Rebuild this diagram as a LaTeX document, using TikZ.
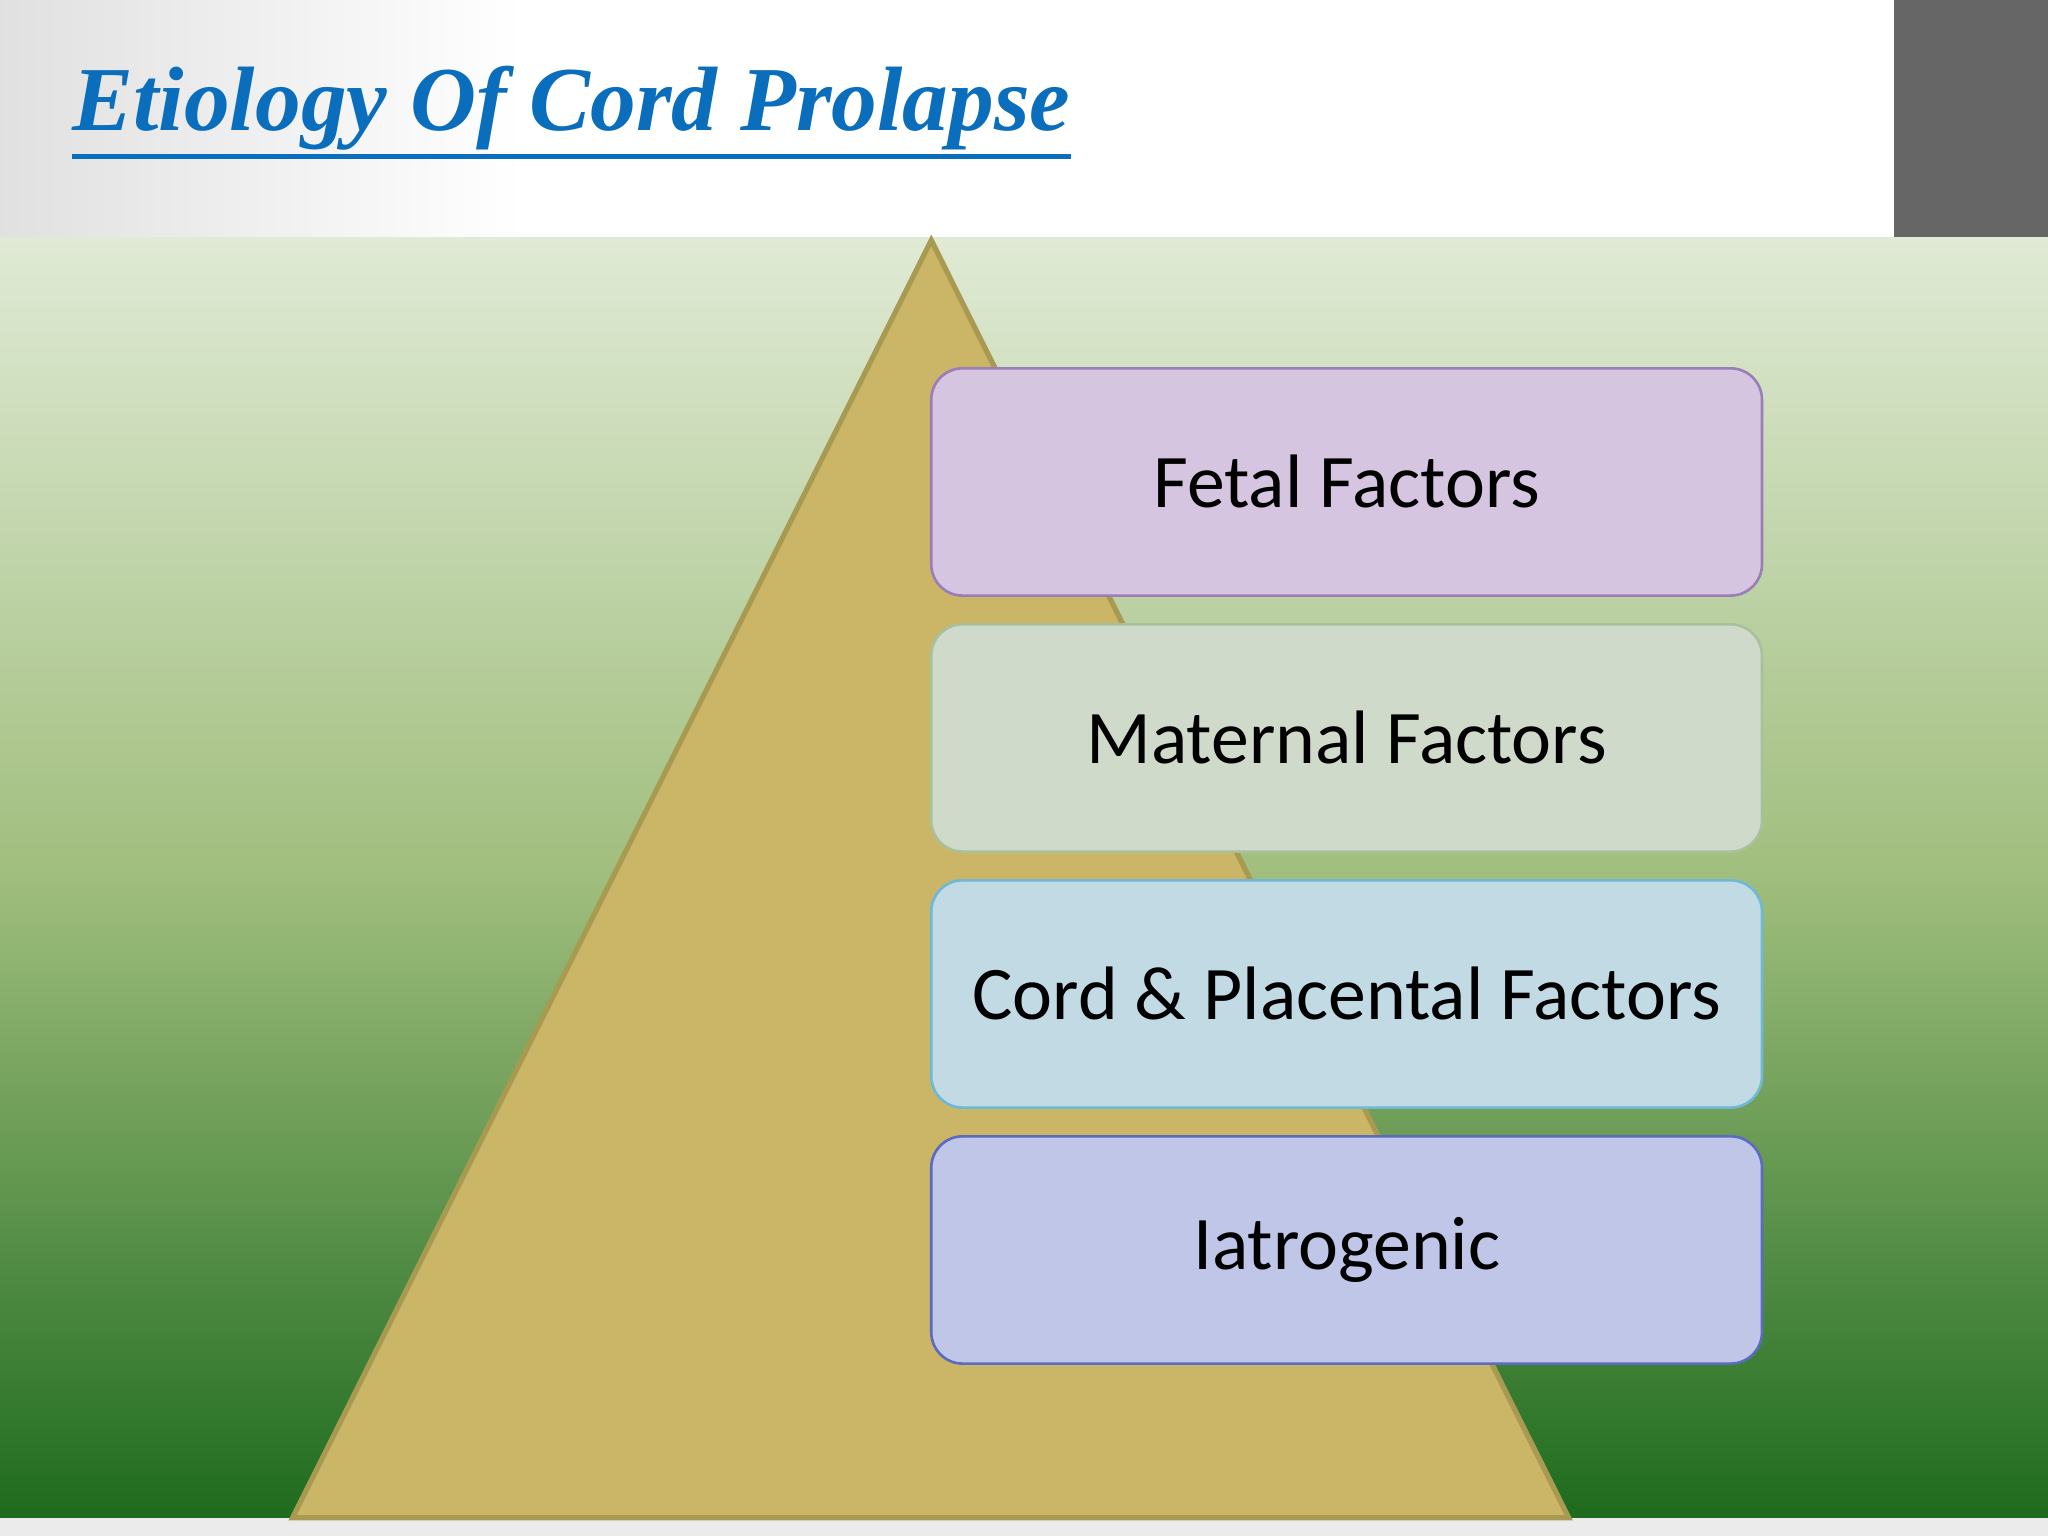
\documentclass[tikz,border=0pt]{standalone}
\usepackage{fontspec}
\setmainfont{Carlito}
\newfontfamily\titlefont{Liberation Serif}
\definecolor{tblue}{RGB}{10,110,189}
\definecolor{tri}{RGB}{203,181,103}
\definecolor{trid}{RGB}{168,154,80}
\definecolor{gtop}{RGB}{224,234,213}
\definecolor{gmid}{RGB}{160,190,125}
\definecolor{gbot}{RGB}{30,107,30}
\definecolor{f1}{RGB}{214,197,224}\definecolor{d1}{RGB}{155,125,184}
\definecolor{f2}{RGB}{208,218,203}\definecolor{d2}{RGB}{169,192,156}
\definecolor{f3}{RGB}{194,218,228}\definecolor{d3}{RGB}{111,184,214}
\definecolor{f4}{RGB}{191,198,232}\definecolor{d4}{RGB}{90,107,192}
\begin{document}
\begin{tikzpicture}[x=0.5pt,y=-0.5pt,
  fbox/.style={rounded corners=12pt,line width=1pt,minimum width=318pt,minimum height=87pt,font=\fontsize{29}{34}\selectfont,anchor=north west,inner sep=0pt}]
\useasboundingbox (0,0) rectangle (1568,1176);
\fill[white] (0,0) rectangle (1568,1176);
\shade[left color=black!12,right color=white] (0,0) rectangle (400,182);
\fill[black!8] (0,1162) rectangle (1568,1176);
\fill[black!60] (1450,0) rectangle (1568,182);
\shade[top color=gtop,bottom color=gmid] (0,182) rectangle (1568,672);
\shade[top color=gmid,bottom color=gbot] (0,671) rectangle (1568,1162);
\fill[fill=tri,draw=trid,line width=2pt] (713,184) -- (1201,1162) -- (224,1162) -- cycle;
\node[font=\titlefont\bfseries\itshape\fontsize{35}{40}\selectfont,text=tblue,anchor=base west,inner sep=0pt] (t) at (55,100) {Etiology Of Cord Prolapse};
\draw[tblue,line width=2pt] ([yshift=-10pt]t.base west) -- ([yshift=-10pt]t.base east);
\node[fbox,fill=f1,draw=d1] (a) at (712,281) {Fetal Factors};
\node[fbox,fill=f2,draw=d2] (b) at (712,477) {Maternal Factors};
\node[fbox,fill=f3,draw=d3] (c) at (712,673) {Cord \& Placental Factors};
\node[fbox,fill=f4,draw=d4] (d) at (712,869) {Iatrogenic};
\end{tikzpicture}
\end{document}
